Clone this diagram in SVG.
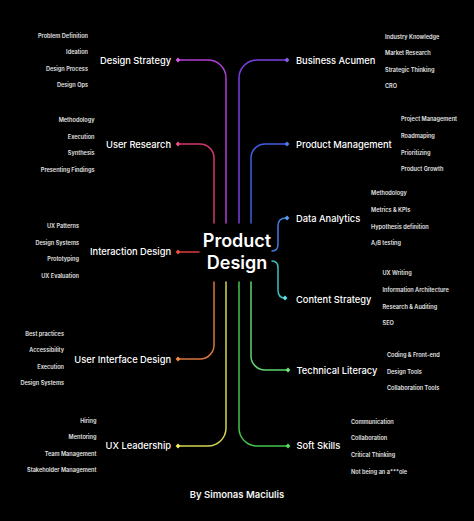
<svg xmlns="http://www.w3.org/2000/svg" width="474" height="521" viewBox="0 0 474 521">
<style>
.bg{fill:#000}
.lbl{font-family:Inter,"Noto Sans",sans-serif;font-size:9.3px;font-weight:500;fill:#fff}
.sub{font-family:Inter,"Noto Sans",sans-serif;font-size:5.6px;font-weight:600;fill:#e6e6e6}
.title{font-family:Inter,"Noto Sans",sans-serif;font-size:18px;font-weight:600;fill:#fff}
.by{font-family:Inter,"Noto Sans",sans-serif;font-size:9.5px;font-weight:600;fill:#f2f2f2}
.c{fill:none;stroke-width:1.5;stroke-linecap:round}
.end{text-anchor:end}
</style>
<defs>
<path id="dm" d="M0,-2.4 L2.4,0 L0,2.4 L-2.4,0 Z"/>
</defs>
<rect class="bg" x="0" y="0" width="474" height="521"/>
<g id="connectors">
<path class="c" stroke="#b43fd3" d="M178,60 H208 A18,18 0 0 1 226,78 V223"/>
<path class="c" stroke="#7b3fe4" d="M287,60 H257 A18,18 0 0 0 239,78 V223"/>
<path class="c" stroke="#cf386d" d="M178,144 H200 A14,14 0 0 1 214,158 V223"/>
<path class="c" stroke="#3f5fe0" d="M287,144 H265 A14,14 0 0 0 251,158 V223"/>
<path class="c" stroke="#e03a3a" d="M178,252 H199"/>
<path class="c" stroke="#3f7fe0" d="M272,251 Q278,251 278,244 V226 Q278,218 286,218 H287"/>
<path class="c" stroke="#3fbfbf" d="M272,261 Q278,261 278,268 V290 Q278,298 285,298"/>
<path class="c" stroke="#d8773a" d="M178,359 H200 A14,14 0 0 0 214,345 V282"/>
<path class="c" stroke="#d5d452" d="M178,446 H208 A18,18 0 0 0 226,428 V282"/>
<path class="c" stroke="#5fd36f" d="M288,370 H265 A14,14 0 0 1 251,356 V282"/>
<path class="c" stroke="#45c24e" d="M288,446 H257 A18,18 0 0 1 239,428 V282"/>
</g>
<g id="center">
<text class="title" x="237" y="247" text-anchor="middle">Product</text>
<text class="title" x="237" y="269" text-anchor="middle">Design</text>
</g>
<g id="design-strategy">
<use href="#dm" x="178" y="60" fill="#d55be0"/>
<text class="lbl end" x="171" y="63.5">Design Strategy</text>
<text class="sub end" x="88" y="37.7">Problem Definition</text>
<text class="sub end" x="88" y="54">Ideation</text>
<text class="sub end" x="88" y="70.7">Design Process</text>
<text class="sub end" x="88" y="87">Design Ops</text>
</g>
<g id="user-research">
<use href="#dm" x="178" y="144" fill="#e9507f"/>
<text class="lbl end" x="171" y="147.5">User Research</text>
<text class="sub end" x="94.5" y="122">Methodology</text>
<text class="sub end" x="94.5" y="138.7">Execution</text>
<text class="sub end" x="94.5" y="155.3">Synthesis</text>
<text class="sub end" x="94.5" y="172">Presenting Findings</text>
</g>
<g id="interaction-design">
<use href="#dm" x="178" y="252" fill="#f04848"/>
<text class="lbl end" x="171" y="255.3">Interaction Design</text>
<text class="sub end" x="79" y="228">UX Patterns</text>
<text class="sub end" x="79" y="244.7">Design Systems</text>
<text class="sub end" x="79" y="261.3">Prototyping</text>
<text class="sub end" x="79" y="278">UX Evaluation</text>
</g>
<g id="ui-design">
<use href="#dm" x="178" y="359" fill="#f08a48"/>
<text class="lbl end" x="171" y="362.5">User Interface Design</text>
<text class="sub end" x="64" y="336">Best practices</text>
<text class="sub end" x="64" y="352.3">Accessibility</text>
<text class="sub end" x="64" y="369">Execution</text>
<text class="sub end" x="64" y="385.3">Design Systems</text>
</g>
<g id="ux-leadership">
<use href="#dm" x="178" y="446" fill="#f5ef5a"/>
<text class="lbl end" x="171" y="449.3">UX Leadership</text>
<text class="sub end" x="96.5" y="422.7">Hiring</text>
<text class="sub end" x="96.5" y="439.3">Mentoring</text>
<text class="sub end" x="96.5" y="456">Team Management</text>
<text class="sub end" x="96.5" y="472">Stakeholder Management</text>
</g>
<g id="business-acumen">
<use href="#dm" x="287" y="60" fill="#8c5cf0"/>
<text class="lbl" x="296" y="63.5">Business Acumen</text>
<text class="sub" x="385" y="38.7">Industry Knowledge</text>
<text class="sub" x="385" y="55.3">Market Research</text>
<text class="sub" x="385" y="72">Strategic Thinking</text>
<text class="sub" x="385" y="88.3">CRO</text>
</g>
<g id="product-management">
<use href="#dm" x="287" y="144" fill="#5577f0"/>
<text class="lbl" x="296" y="147.8">Product Management</text>
<text class="sub" x="401" y="121.3">Project Management</text>
<text class="sub" x="401" y="138.3">Roadmaping</text>
<text class="sub" x="401" y="154.7">Prioritizing</text>
<text class="sub" x="401" y="171.3">Product Growth</text>
</g>
<g id="data-analytics">
<use href="#dm" x="287" y="218" fill="#5a9af0"/>
<text class="lbl" x="296" y="221.8">Data Analytics</text>
<text class="sub" x="371" y="195.3">Methodology</text>
<text class="sub" x="371" y="212">Metrics &amp; KPIs</text>
<text class="sub" x="371" y="228.7">Hypothesis definition</text>
<text class="sub" x="371" y="245.3">A/B testing</text>
</g>
<g id="content-strategy">
<use href="#dm" x="285" y="298" fill="#55e3f0"/>
<text class="lbl" x="296" y="302.5">Content Strategy</text>
<text class="sub" x="382.5" y="275.3">UX Writing</text>
<text class="sub" x="382.5" y="292">Information Architecture</text>
<text class="sub" x="382.5" y="308.7">Research &amp; Auditing</text>
<text class="sub" x="382.5" y="325.3">SEO</text>
</g>
<g id="technical-literacy">
<use href="#dm" x="288" y="370" fill="#70e680"/>
<text class="lbl" x="296.5" y="373.5">Technical Literacy</text>
<text class="sub" x="387" y="357.3">Coding &amp; Front-end</text>
<text class="sub" x="387" y="374">Design Tools</text>
<text class="sub" x="387" y="390.3">Collaboration Tools</text>
</g>
<g id="soft-skills">
<use href="#dm" x="288" y="446" fill="#55dd60"/>
<text class="lbl" x="296.5" y="449.3">Soft Skills</text>
<text class="sub" x="351" y="423.7">Communication</text>
<text class="sub" x="351" y="440.3">Collaboration</text>
<text class="sub" x="351" y="457">Critical Thinking</text>
<text class="sub" x="351" y="473.7">Not being an a***ole</text>
</g>
<g id="credit">
<text class="by" x="237" y="497.5" text-anchor="middle">By Simonas Maciulis</text>
</g>
</svg>
